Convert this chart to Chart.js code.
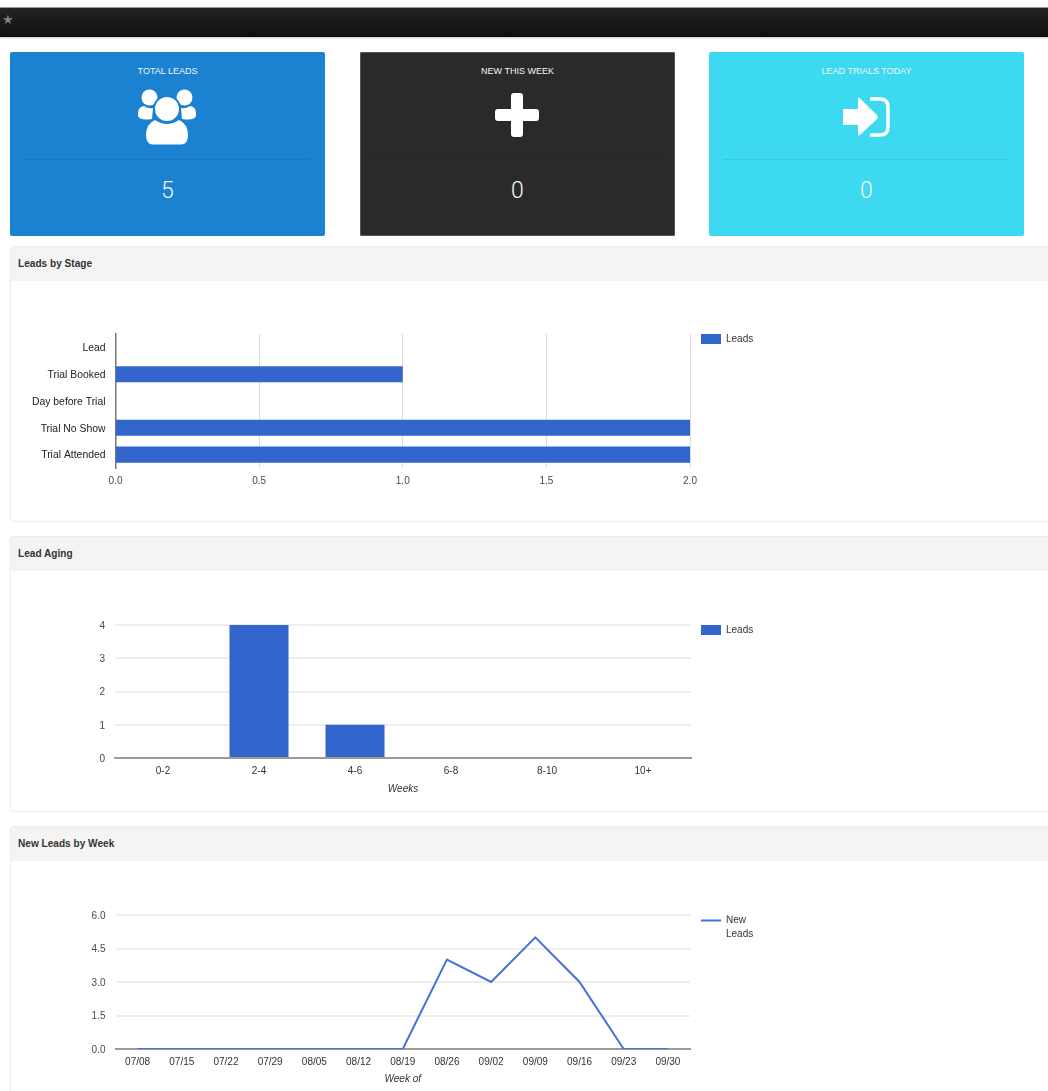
<!DOCTYPE html>
<html>
<head>
<meta charset="utf-8">
<title>Leads Dashboard</title>
<script src="https://cdn.jsdelivr.net/npm/chart.js@4"></script>
<style>
    html, body { margin: 0; padding: 0; background: #fff; width: 1048px; height: 1091px; overflow: hidden; }
    body { position: relative; font-family: "Liberation Sans", Arial, sans-serif; }

    .navbar { position: absolute; left: 0; top: 7px; width: 1048px; height: 29px; border-top: 1px solid #999;
        background: linear-gradient(#242424, #0e0e0e); box-shadow: 0 1px 2px rgba(0, 0, 0, .25); }
    .navbar span { position: absolute; left: 2px; top: 4px; color: #808080; font: 13px "DejaVu Sans"; }

    .tile { position: absolute; top: 52px; width: 315px; height: 184px; border-radius: 2px; color: #f4f6f8; text-align: center; }
    .tile .name { position: absolute; left: 0; right: 0; top: 13px; font-size: 9px; line-height: 12px; }
    .tile hr { position: absolute; left: 15px; right: 15px; top: 107px; margin: 0; border: 0; border-top: 1px solid rgba(0, 0, 0, .07); }
    .tile .count { position: absolute; left: 0; right: 0; top: 125px; font: 300 23px/28px Roboto, sans-serif; }
    .tile svg { position: absolute; }

    .panel { position: absolute; left: 10px; width: 1060px; box-sizing: border-box; border: 1px solid #ececec; border-radius: 3px; background: #fff; }
    .panel h3 { margin: 0; height: 34px; background: #f4f4f4; font-size: 10.1px; line-height: 33px; font-weight: bold; color: #333; padding-left: 7px; }

    canvas { position: absolute; left: 10px; }
</style>
</head>
<body>

<div class="navbar"><span>★</span></div>

<div class="tile" style="left:10px;background:#1b82d2">
    <div class="name">TOTAL LEADS</div>
    <svg style="left:127px;top:36px" width="60" height="58" viewBox="0 0 60 58" fill="#fff">
        <circle cx="12.5" cy="9.5" r="8"/>
        <circle cx="47.5" cy="9.5" r="8"/>
        <path d="M1 25Q1 19 7 18Q11 21 16 20L15 31Q3 33 1 28Z"/>
        <path d="M59 25Q59 19 53 18Q49 21 44 20L45 31Q57 33 59 28Z"/>
        <circle cx="30" cy="21" r="13" stroke="#1b82d2" stroke-width="2"/>
        <path d="M9 47Q9 36 18 32Q24 36 30 36Q36 36 42 32Q51 36 51 47Q51 56.500 44 56.500L16 56.500Q9 56.500 9 47Z"/>
    </svg>
    <hr>
    <div class="count">5</div>
</div>

<div class="tile" style="left:360px;background:#2a2a2a;box-shadow:inset 0 0 0 1px #555">
    <div class="name">NEW THIS WEEK</div>
    <svg style="left:135px;top:41px" width="45" height="45" viewBox="0 0 45 45" fill="#fff">
        <rect x="0" y="16" width="44" height="12" rx="3"/>
        <rect x="16" y="0" width="12" height="44" rx="3"/>
    </svg>
    <hr>
    <div class="count">0</div>
</div>

<div class="tile" style="left:709px;background:#3dd9f0">
    <div class="name">LEAD TRIALS TODAY</div>
    <svg style="left:133px;top:44px" width="50" height="42" viewBox="0 0 50 42" fill="#fff">
        <path d="M1 13H16V3Q16 1 18 2.500L35 19Q36.500 21 35 23L18 39Q16 40.500 16 38V29H1Z"/>
        <path d="M28 3H38Q46 3 46 11V31Q46 39 38 39H28" fill="none" stroke="#fff" stroke-width="3.500"/>
    </svg>
    <hr>
    <div class="count">0</div>
</div>

<div class="panel" style="top:246px;height:276px"><h3>Leads by Stage</h3></div>
<div class="panel" style="top:536px;height:276px"><h3>Lead Aging</h3></div>
<div class="panel" style="top:826px;height:300px"><h3>New Leads by Week</h3></div>

<canvas style="top:314px" width="780" height="184"></canvas>
<canvas style="top:605px" width="781" height="190"></canvas>
<canvas style="top:895px" width="780" height="190"></canvas>

<script>
const STAGES = ['Lead', 'Trial Booked', 'Day before Trial', 'Trial No Show', 'Trial Attended'];
const STAGE_LEADS = [0, 1, 0, 2, 2];

const AGE_BUCKETS = ['0-2', '2-4', '4-6', '6-8', '8-10', '10+'];
const AGE_LEADS = [0, 4, 1, 0, 0, 0];

const WEEKS = ['07/08', '07/15', '07/22', '07/29', '08/05', '08/12', '08/19', '08/26', '09/02', '09/09', '09/16', '09/23', '09/30'];
const WEEK_LEADS = [0, 0, 0, 0, 0, 0, 0, 4, 3, 5, 3, 0, 0];

const BLUE = '#3366cc';
const FONT = 'Liberation Sans';

Chart.defaults.font.family = FONT;
Chart.defaults.font.size = 10;
Chart.defaults.color = '#4a4a4a';
Chart.defaults.animation = false;
Chart.defaults.responsive = false;

// the legend sits a little away from the plot and lines up with its top edge
Chart.register({
    id: 'legendNudge',
    afterLayout(chart, args, options) {
        const legend = chart.legend;
        legend.left = chart.chartArea.right + options.x;
        legend.right = chart.width;
        legend.top = chart.chartArea.top + options.y;
    }
});

function legendOptions(extra) {
    return {
        position: 'right',
        align: 'start',
        maxWidth: 40,
        labels: Object.assign({
            boxWidth: 20,
            boxHeight: 10,
            padding: 0,
            color: '#333',
            font: { size: 10 }
        }, extra)
    };
}

// keeps the plot rectangle the same whatever the tick text measures
function fixWidth(w) {
    return scale => { scale.width = w; };
}
function fixHeight(h) {
    return scale => { scale.height = h; };
}

let config = [];

config.push({
    type: 'bar',
    data: {
        labels: STAGES,
        datasets: [{
            label: 'Leads',
            data: STAGE_LEADS,
            backgroundColor: BLUE,
            barPercentage: 0.6,
            categoryPercentage: 1
        }]
    },
    options: {
        indexAxis: 'y',
        layout: { padding: { top: 20, right: 60 } },
        plugins: {
            legend: legendOptions(),
            legendNudge: { x: 11, y: 0 },
            tooltip: { enabled: false }
        },
        scales: {
            x: {
                min: 0,
                max: 2,
                afterFit: fixHeight(30),
                border: { display: false },
                grid: { color: '#dcdcdc', drawTicks: false },
                ticks: { stepSize: 0.5, padding: 7, callback: v => v.toFixed(1) }
            },
            y: {
                afterFit: fixWidth(105.5),
                border: { color: '#777', width: 1.5 },
                grid: { drawOnChartArea: false, drawTicks: false },
                ticks: { padding: 10, labelOffset: 1, color: '#222', font: { size: 10.4 } }
            }
        }
    }
});

config.push({
    type: 'bar',
    data: {
        labels: AGE_BUCKETS,
        datasets: [{
            label: 'Leads',
            data: AGE_LEADS,
            backgroundColor: BLUE,
            barPercentage: 0.615,
            categoryPercentage: 1
        }]
    },
    options: {
        layout: { padding: { top: 20, right: 60 } },
        plugins: {
            legend: legendOptions(),
            legendNudge: { x: 10, y: 0 },
            tooltip: { enabled: false }
        },
        scales: {
            x: {
                afterFit: fixHeight(37),
                border: { color: '#9a9a9a', width: 2 },
                grid: { display: false, drawTicks: false },
                ticks: { padding: 7, color: '#333' },
                title: { display: true, text: 'Weeks', padding: 0, color: '#333', font: { size: 10, style: 'italic' } }
            },
            y: {
                min: 0,
                max: 4,
                afterFit: fixWidth(105),
                border: { display: false },
                grid: { color: '#eeeeee', lineWidth: 2, drawTicks: false },
                ticks: { stepSize: 1, padding: 10, labelOffset: 1 }
            }
        }
    }
});

config.push({
    type: 'line',
    data: {
        labels: WEEKS,
        datasets: [{
            label: ['New', 'Leads'],
            data: WEEK_LEADS,
            borderColor: '#4472d8',
            backgroundColor: '#4472d8',
            borderWidth: 2,
            pointRadius: 0,
            tension: 0
        }]
    },
    options: {
        layout: { padding: { top: 20, right: 60 } },
        plugins: {
            legend: legendOptions({
                usePointStyle: true,
                pointStyle: 'line',
                pointStyleWidth: 20,
                font: { size: 10, lineHeight: 1.33 }
            }),
            legendNudge: { x: 11, y: 0.5 },
            tooltip: { enabled: false }
        },
        scales: {
            x: {
                offset: true,
                afterFit: fixHeight(36),
                border: { color: '#9a9a9a', width: 2 },
                grid: { display: false, drawTicks: false },
                ticks: { padding: 7, color: '#333', maxRotation: 0, autoSkip: false },
                title: { display: true, text: 'Week of', padding: 0, color: '#333', font: { size: 10, style: 'italic' } }
            },
            y: {
                min: 0,
                max: 6,
                afterFit: fixWidth(105.5),
                border: { display: false },
                grid: { color: '#eeeeee', lineWidth: 2, drawTicks: false },
                ticks: { stepSize: 1.5, padding: 10, labelOffset: 1, callback: v => v.toFixed(1) }
            }
        }
    }
});

let charts = [];

const cnv = document.querySelectorAll('canvas');

cnv.forEach((element, index) => {
    charts.push(new Chart(element, config[index]));
});
</script>
</body>
</html>
